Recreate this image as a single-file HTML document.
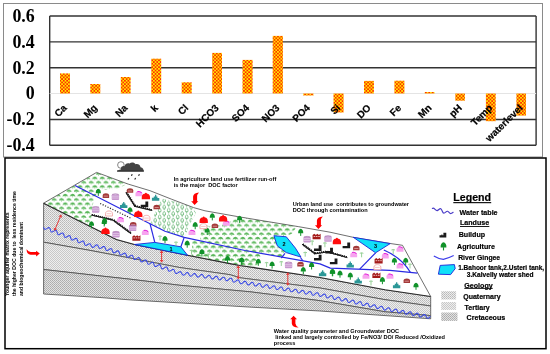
<!DOCTYPE html>
<html><head><meta charset="utf-8">
<style>
html,body{margin:0;padding:0;background:#fff;}
body{width:550px;height:354px;overflow:hidden;position:relative;}
svg{position:absolute;left:0;top:0;display:block;}
.ax{font-family:"Liberation Serif",serif;font-weight:bold;font-size:17.9px;fill:#000;}
.cat{font-family:"Liberation Sans",sans-serif;font-weight:bold;font-size:9.9px;fill:#000;stroke:#000;stroke-width:0.2px;}
.t{font-family:"Liberation Sans",sans-serif;font-weight:bold;fill:#000;white-space:pre;text-decoration-skip-ink:none;}
</style></head>
<body>
<svg width="550" height="354" viewBox="0 0 550 354">
<defs>
  <pattern id="chk" width="3.4" height="3.4" patternUnits="userSpaceOnUse">
    <rect width="3.4" height="3.4" fill="#ffe800"/>
    <rect width="1.7" height="1.7" fill="#ff3000"/>
    <rect x="1.7" y="1.7" width="1.7" height="1.7" fill="#ff3000"/>
  </pattern>
  <pattern id="g1" width="2" height="2" patternUnits="userSpaceOnUse">
    <rect width="2" height="2" fill="#ececec"/>
    <rect width="1" height="1" fill="#b8b8b8"/>
    <rect x="1" y="1" width="1" height="1" fill="#c4c4c4"/>
  </pattern>
  <pattern id="g2" width="2" height="2" patternUnits="userSpaceOnUse">
    <rect width="2" height="2" fill="#eeeeee"/>
    <rect width="1" height="1" fill="#c8c8c8"/>
    <rect x="1" y="1" width="1" height="1" fill="#c8c8c8"/>
  </pattern>
  <pattern id="g3" width="2" height="2" patternUnits="userSpaceOnUse">
    <rect width="2" height="2" fill="#e2e2e2"/>
    <rect width="1" height="1" fill="#acacac"/>
    <rect x="1" y="1" width="1" height="1" fill="#b4b4b4"/>
  </pattern>
  <pattern id="gd" width="7.4" height="8.6" patternUnits="userSpaceOnUse">
    <path d="M-0.6,2.9 Q0.3,0.4 2.3,0.3 Q4.3,0.4 5.2,2.9 Q2.3,2 -0.6,2.9 Z" fill="#57b557"/><path d="M2.3,2.3 V3.8" stroke="#94d294" stroke-width="0.8"/>
    <path d="M3.1,7.2 Q4,4.7 6,4.6 Q8,4.7 8.9,7.2 Q6,6.3 3.1,7.2 Z" fill="#57b557"/><path d="M6,6.6 V8.1" stroke="#94d294" stroke-width="0.8"/>
    <path d="M-4.3,7.2 Q-3.4,4.7 -1.4,4.6 Q0.6,4.7 1.5,7.2 Q-1.4,6.3 -4.3,7.2 Z" fill="#57b557"/>
  </pattern>
  <pattern id="gd2" width="9" height="9" patternUnits="userSpaceOnUse">
    <path d="M0.4,2.6 Q1.1,0.6 2.3,0.5 Q3.5,0.6 4.2,2.6 Q2.3,1.9 0.4,2.6 Z" fill="#6cbf6c"/><path d="M2.3,2 V3.3" stroke="#9fd79f" stroke-width="0.6"/>
    <path d="M4.9,7.1 Q5.6,5.1 6.8,5 Q8,5.1 8.7,7.1 Q6.8,6.4 4.9,7.1 Z" fill="#6cbf6c"/><path d="M6.8,6.5 V7.8" stroke="#9fd79f" stroke-width="0.6"/>
  </pattern>
  <pattern id="fr" width="9" height="6.6" patternUnits="userSpaceOnUse">
    <path d="M2.2,0.2 C3.4,1.1 3.8,2.6 3.4,3.8 L1,3.8 C0.6,2.6 1,1.1 2.2,0.2 Z M2.2,3.8 V5.6" fill="none" stroke="#3a9f4a" stroke-width="0.6"/>
    <path d="M6.7,3.5 C7.9,4.4 8.3,5.9 7.9,7.1 L5.5,7.1 C5.1,5.9 5.5,4.4 6.7,3.5 Z M6.7,0.5 V2.3" fill="none" stroke="#3a9f4a" stroke-width="0.6"/>
    <path d="M6.7,-3.1 C7.9,-2.2 8.3,-0.7 7.9,0.5 L5.5,0.5 C5.1,-0.7 5.5,-2.2 6.7,-3.1 Z" fill="none" stroke="#3a9f4a" stroke-width="0.6"/>
  </pattern>
</defs>

<!-- ============ CHART ============ -->
<rect x="3.5" y="3.5" width="539" height="153.5" fill="#fff" stroke="#8a8a8a" stroke-width="1"/>
<g stroke="#333" stroke-width="1.4" fill="none">
  <line x1="49.7" y1="16" x2="536.1" y2="16"/>
  <line x1="49.7" y1="41.86" x2="536.1" y2="41.86"/>
  <line x1="49.7" y1="67.72" x2="536.1" y2="67.72"/>
  <line x1="49.7" y1="119.44" x2="536.1" y2="119.44"/>
  <line x1="49.7" y1="145.3" x2="536.1" y2="145.3"/>
  <line x1="49.7" y1="16" x2="49.7" y2="145.3"/>
  <line x1="536.1" y1="16" x2="536.1" y2="145.3"/>
</g>
<line x1="49.7" y1="93.5" x2="536.1" y2="93.5" stroke="#e4e4e4" stroke-width="1"/>
<g fill="url(#chk)">
  <rect x="60" y="73.4" width="10" height="20.1"/>
  <rect x="90.3" y="84" width="10" height="9.5"/>
  <rect x="120.8" y="77" width="9.8" height="16.5"/>
  <rect x="151.3" y="58.7" width="9.9" height="34.8"/>
  <rect x="181.7" y="82.3" width="10" height="11.2"/>
  <rect x="212.2" y="52.9" width="9.8" height="40.6"/>
  <rect x="242.5" y="59.9" width="10.1" height="33.6"/>
  <rect x="272.7" y="35.9" width="10.2" height="57.6"/>
  <rect x="303.2" y="93.5" width="10.3" height="2"/>
  <rect x="333.5" y="93.5" width="10.1" height="19"/>
  <rect x="364" y="80.9" width="9.9" height="12.6"/>
  <rect x="394.4" y="80.7" width="10" height="12.8"/>
  <rect x="424.7" y="92" width="9.8" height="1.5"/>
  <rect x="455.3" y="93.5" width="9.6" height="7.2"/>
  <rect x="485.9" y="93.5" width="9.8" height="27.7"/>
  <rect x="516.4" y="93.5" width="9.6" height="22.1"/>
</g>
<g class="ax" text-anchor="end">
  <text x="34.8" y="21.8">0.6</text>
  <text x="34.8" y="47.7">0.4</text>
  <text x="34.8" y="73.5">0.2</text>
  <text x="34.8" y="99.4">0</text>
  <text x="34.8" y="125.2">-0.2</text>
  <text x="34.8" y="151.1">-0.4</text>
</g>
<g class="cat" text-anchor="end">
  <text transform="translate(67.4,108.5) rotate(-45)">Ca</text>
  <text transform="translate(97.8,108.5) rotate(-45)">Mg</text>
  <text transform="translate(128.2,108.5) rotate(-45)">Na</text>
  <text transform="translate(158.6,108.5) rotate(-45)">k</text>
  <text transform="translate(189.0,108.5) rotate(-45)">Cl</text>
  <text transform="translate(219.4,108.5) rotate(-45)">HCO3</text>
  <text transform="translate(249.8,108.5) rotate(-45)">SO4</text>
  <text transform="translate(280.2,108.5) rotate(-45)">NO3</text>
  <text transform="translate(310.6,108.5) rotate(-45)">PO4</text>
  <text transform="translate(341.0,108.5) rotate(-45)">Si</text>
  <text transform="translate(371.4,108.5) rotate(-45)">DO</text>
  <text transform="translate(401.8,108.5) rotate(-45)">Fe</text>
  <text transform="translate(432.2,108.5) rotate(-45)">Mn</text>
  <text transform="translate(462.6,108.5) rotate(-45)">pH</text>
  <text transform="translate(493.0,108.5) rotate(-45)">Temp</text>
  <text transform="translate(523.4,108.5) rotate(-45)">waterlevel</text>
</g>

<!-- ============ DIAGRAM ============ -->
<rect x="5" y="158" width="541" height="190.7" fill="#fff" stroke="#000" stroke-width="1.5"/>

<clipPath id="topclip"><polygon points="43.6,203.2 96.6,172.4 128.2,184.1 150.0,190.7 171.8,199.3 193.6,207.6 205.0,210.8 237.7,216.6 260.0,220.3 298.2,226.6 330.0,232.2 354.5,237.6 390.9,243.6 402.5,245.3 430.7,296.5 385.0,289.7 320.0,277.5 240.0,265.5 230.0,263.6 187.6,255.3 134.5,244.5 116.4,239.5 43.6,203.2"/></clipPath><g stroke="#4a4a4a" stroke-width="0.8" stroke-linejoin="round"><polygon fill="url(#g1)" points="43.6,203.2 116.4,239.5 134.5,244.5 187.6,255.3 230.0,263.6 240.0,265.5 320.0,277.5 385.0,289.7 430.7,296.5 430.7,306.0 385.0,299.7 320.0,288.0 240.0,277.8 230.0,274.7 180.0,267.6 90.0,250.4 43.6,242.2"/><polygon fill="url(#g2)" points="43.6,242.2 90.0,250.4 180.0,267.6 230.0,274.7 240.0,277.8 320.0,288.0 385.0,299.7 430.7,306.0 430.7,315.6 385.0,311.8 320.0,300.7 250.0,291.8 180.0,285.3 130.0,279.2 100.0,275.9 43.6,269.5"/><polygon fill="url(#g3)" points="43.6,269.5 100.0,275.9 130.0,279.2 180.0,285.3 250.0,291.8 320.0,300.7 385.0,311.8 430.7,315.6 430.7,318.8 320.0,311.0 250.0,307.1 130.0,299.9 100.0,297.5 43.6,294.0"/></g><polygon fill="#fff" points="43.6,203.2 96.6,172.4 128.2,184.1 150.0,190.7 171.8,199.3 193.6,207.6 205.0,210.8 237.7,216.6 260.0,220.3 298.2,226.6 330.0,232.2 354.5,237.6 390.9,243.6 402.5,245.3 430.7,296.5 385.0,289.7 320.0,277.5 240.0,265.5 230.0,263.6 187.6,255.3 134.5,244.5 116.4,239.5 43.6,203.2"/><g clip-path="url(#topclip)"><polygon points="43.6,203.2 96.9,172.4 128.0,183.4 118.0,188.5 100.0,190.5 94.0,197.0 92.0,212.0 90.0,227.0 43.6,203.2" fill="url(#gd)"/><polygon points="162.0,198.5 180.0,203.0 192.0,207.0 196.0,213.0 190.0,224.0 184.2,237.4 165.0,231.3 150.0,223.7 155.0,213.0 159.0,204.0" fill="url(#fr)"/><polygon points="202.0,224.0 212.0,227.0 228.0,223.0 238.0,216.0 245.0,216.5 297.0,226.0 292.0,233.5 286.3,236.8 273.9,235.7 277.3,245.8 286.3,252.6 283.0,257.3 245.0,250.5 200.0,240.8" fill="url(#gd)"/><polygon points="192.0,239.1 245.0,250.5 262.0,253.5 256.0,267.5 240.0,265.1 230.0,263.4 192.0,256.1" fill="url(#gd)"/></g><polyline fill="none" stroke="#2a2a2a" stroke-width="1.1" stroke-linejoin="round" points="43.6,203.2 116.4,239.5 134.5,244.5 187.6,255.3 230.0,263.6 240.0,265.5 320.0,277.5 385.0,289.7 430.7,296.5"/><polyline fill="none" stroke="#4a4a4a" stroke-width="0.8" stroke-linejoin="round" points="43.6,203.2 96.6,172.4 128.2,184.1 150.0,190.7 171.8,199.3 193.6,207.6 205.0,210.8 237.7,216.6 260.0,220.3 298.2,226.6 330.0,232.2 354.5,237.6 390.9,243.6 402.5,245.3 430.7,296.5"/><g fill="none" stroke="#2a2ae2" stroke-width="1.2" stroke-linejoin="round"><polyline points="75.0,185.5 150.0,223.7 165.0,231.3 184.2,237.4 245.0,250.5 320.0,263.9 330.3,268.1 390.0,270.4 417.5,273.1"/><polyline points="150,223.7 154.8,242.4"/><polyline points="184.2,237.4 180.9,246.8"/><polyline points="285,253.4 281.3,258"/><polyline points="300.5,257.5 303,261"/><polyline points="375.6,252.8 359.7,269.1"/><path d="M383.8,250 Q402,258 410.5,272.5"/></g><polygon points="134.5,244.5 154.8,242.4 180.9,246.8 187.6,255.3" fill="#10e0f8" stroke="#1a22d8" stroke-width="0.9" stroke-linejoin="round"/><polygon points="273.9,235.7 286.3,236.8 295.4,248.1 301,257.1 286.3,252.6 277.3,245.8" fill="#10e0f8" stroke="#1a22d8" stroke-width="0.9" stroke-linejoin="round"/><polygon points="353.3,237.3 390.2,243.6 375.6,252.8" fill="#10e0f8" stroke="#1a22d8" stroke-width="0.9" stroke-linejoin="round"/><g class="t" font-size="5.5"><text x="169.6" y="250.6">1</text><text x="282.6" y="245.8">2</text><text x="373.9" y="247.6">3</text></g><g fill="#111" stroke="#111" stroke-width="0.9" stroke-linejoin="miter"><path d="M125.60,192.70 L127.42,192.40 L126.71,194.45 L128.54,194.15 L127.82,196.20 L129.65,195.90 L128.94,197.95 L130.76,197.65 L130.05,199.70 L131.87,199.40 L131.16,201.45 L132.99,201.15 L132.28,203.20 L134.10,202.90 L133.39,204.95 L135.21,204.65 L134.50,206.70"/><path d="M134.50,206.70 L135.59,205.22 L136.44,207.18 L137.53,205.69 L138.39,207.66 L139.48,206.17 L140.33,208.13 L141.42,206.65 L142.28,208.61 L143.36,207.13 L144.22,209.09 L145.31,207.61 L146.17,209.57 L147.25,208.08 L148.11,210.04 L149.20,208.56 L150.06,210.52 L151.14,209.04 L152.00,211.00"/><path d="M91.30,215.60 L92.38,214.11 L93.26,216.06 L94.34,214.57 L95.23,216.53 L96.31,215.04 L97.19,216.99 L98.27,215.50 L99.15,217.45 L100.23,215.96 L101.12,217.92 L102.20,216.43 L103.08,218.38 L104.16,216.89 L105.05,218.85 L106.12,217.35 L107.01,219.31 L108.09,217.82 L108.97,219.77 L110.05,218.28 L110.94,220.24 L112.01,218.74 L112.90,220.70"/><path d="M112.90,220.70 L114.48,219.76 L114.52,221.91 L116.10,220.97 L116.14,223.12 L117.72,222.18 L117.75,224.33 L119.34,223.39 L119.37,225.54 L120.96,224.60 L120.99,226.75 L122.57,225.81 L122.61,227.95 L124.19,227.02 L124.23,229.16 L125.81,228.22 L125.85,230.37 L127.43,229.43 L127.46,231.58 L129.05,230.64 L129.08,232.79 L130.67,231.85 L130.70,234.00"/><path d="M302.00,244.80 L303.57,243.85 L303.59,245.99 L305.16,245.04 L305.18,247.18 L306.75,246.23 L306.76,248.36 L308.34,247.42 L308.35,249.55 L309.92,248.60 L309.94,250.74 L311.51,249.79 L311.52,251.93 L313.10,250.98 L313.11,253.11 L314.69,252.17 L314.70,254.30"/><path d="M314.70,254.30 L315.14,252.51 L316.72,253.98 L317.16,252.19 L318.73,253.67 L319.18,251.88 L320.75,253.35 L321.19,251.56 L322.77,253.03 L323.21,251.24 L324.78,252.72 L325.23,250.93 L326.80,252.40"/><path d="M326.80,252.40 L327.91,250.94 L328.65,252.92 L329.75,251.46 L330.49,253.44 L331.60,251.98 L332.34,253.95 L333.44,252.50 L334.18,254.47 L335.29,253.02 L336.03,254.99 L337.13,253.54 L337.87,255.51 L338.98,254.05 L339.72,256.03 L340.82,254.57 L341.56,256.55 L342.67,255.09 L343.41,257.06 L344.51,255.61 L345.25,257.58 L346.36,256.13 L347.10,258.10"/></g><path d="M100.2,203.5 L130.7,218.1" stroke="#222" stroke-width="1.2" stroke-dasharray="1.1,1.6" fill="none"/><g transform="translate(98.3,192.7) scale(1.10)"><path d="M-2.3,0.6 C-2.6,-1.6 -1.4,-3.4 0,-3.6 C1.4,-3.4 2.6,-1.6 2.3,0.6 Z" fill="#11922a"/><rect x="-0.45" y="0.3" width="0.9" height="2.6" fill="#11922a"/></g><g transform="translate(130.0,211.1) scale(1.10)"><path d="M-2.3,0.6 C-2.6,-1.6 -1.4,-3.4 0,-3.6 C1.4,-3.4 2.6,-1.6 2.3,0.6 Z" fill="#11922a"/><rect x="-0.45" y="0.3" width="0.9" height="2.6" fill="#11922a"/></g><g transform="translate(104.6,221.9) scale(1.10)"><path d="M-2.3,0.6 C-2.6,-1.6 -1.4,-3.4 0,-3.6 C1.4,-3.4 2.6,-1.6 2.3,0.6 Z" fill="#11922a"/><rect x="-0.45" y="0.3" width="0.9" height="2.6" fill="#11922a"/></g><g transform="translate(91.5,225.2) scale(1.10)"><path d="M-2.3,0.6 C-2.6,-1.6 -1.4,-3.4 0,-3.6 C1.4,-3.4 2.6,-1.6 2.3,0.6 Z" fill="#11922a"/><rect x="-0.45" y="0.3" width="0.9" height="2.6" fill="#11922a"/></g><g transform="translate(104.2,223.3) scale(1.10)"><path d="M-2.3,0.6 C-2.6,-1.6 -1.4,-3.4 0,-3.6 C1.4,-3.4 2.6,-1.6 2.3,0.6 Z" fill="#11922a"/><rect x="-0.45" y="0.3" width="0.9" height="2.6" fill="#11922a"/></g><g transform="translate(212.3,217.2) scale(1.10)"><path d="M-2.3,0.6 C-2.6,-1.6 -1.4,-3.4 0,-3.6 C1.4,-3.4 2.6,-1.6 2.3,0.6 Z" fill="#11922a"/><rect x="-0.45" y="0.3" width="0.9" height="2.6" fill="#11922a"/></g><g transform="translate(195.2,226.0) scale(1.10)"><path d="M-2.3,0.6 C-2.6,-1.6 -1.4,-3.4 0,-3.6 C1.4,-3.4 2.6,-1.6 2.3,0.6 Z" fill="#11922a"/><rect x="-0.45" y="0.3" width="0.9" height="2.6" fill="#11922a"/></g><g transform="translate(207.2,231.8) scale(1.10)"><path d="M-2.3,0.6 C-2.6,-1.6 -1.4,-3.4 0,-3.6 C1.4,-3.4 2.6,-1.6 2.3,0.6 Z" fill="#11922a"/><rect x="-0.45" y="0.3" width="0.9" height="2.6" fill="#11922a"/></g><g transform="translate(239.6,219.7) scale(1.10)"><path d="M-2.3,0.6 C-2.6,-1.6 -1.4,-3.4 0,-3.6 C1.4,-3.4 2.6,-1.6 2.3,0.6 Z" fill="#11922a"/><rect x="-0.45" y="0.3" width="0.9" height="2.6" fill="#11922a"/></g><g transform="translate(300.7,232.7) scale(1.10)"><path d="M-2.3,0.6 C-2.6,-1.6 -1.4,-3.4 0,-3.6 C1.4,-3.4 2.6,-1.6 2.3,0.6 Z" fill="#11922a"/><rect x="-0.45" y="0.3" width="0.9" height="2.6" fill="#11922a"/></g><g transform="translate(165.0,240.0) scale(1.10)"><path d="M-2.3,0.6 C-2.6,-1.6 -1.4,-3.4 0,-3.6 C1.4,-3.4 2.6,-1.6 2.3,0.6 Z" fill="#11922a"/><rect x="-0.45" y="0.3" width="0.9" height="2.6" fill="#11922a"/></g><g transform="translate(241.8,261.7) scale(1.10)"><path d="M-2.3,0.6 C-2.6,-1.6 -1.4,-3.4 0,-3.6 C1.4,-3.4 2.6,-1.6 2.3,0.6 Z" fill="#11922a"/><rect x="-0.45" y="0.3" width="0.9" height="2.6" fill="#11922a"/></g><g transform="translate(258.3,262.6) scale(1.10)"><path d="M-2.3,0.6 C-2.6,-1.6 -1.4,-3.4 0,-3.6 C1.4,-3.4 2.6,-1.6 2.3,0.6 Z" fill="#11922a"/><rect x="-0.45" y="0.3" width="0.9" height="2.6" fill="#11922a"/></g><g transform="translate(272.1,265.4) scale(1.10)"><path d="M-2.3,0.6 C-2.6,-1.6 -1.4,-3.4 0,-3.6 C1.4,-3.4 2.6,-1.6 2.3,0.6 Z" fill="#11922a"/><rect x="-0.45" y="0.3" width="0.9" height="2.6" fill="#11922a"/></g><g transform="translate(303.3,270.9) scale(1.10)"><path d="M-2.3,0.6 C-2.6,-1.6 -1.4,-3.4 0,-3.6 C1.4,-3.4 2.6,-1.6 2.3,0.6 Z" fill="#11922a"/><rect x="-0.45" y="0.3" width="0.9" height="2.6" fill="#11922a"/></g><g transform="translate(311.6,266.3) scale(1.10)"><path d="M-2.3,0.6 C-2.6,-1.6 -1.4,-3.4 0,-3.6 C1.4,-3.4 2.6,-1.6 2.3,0.6 Z" fill="#11922a"/><rect x="-0.45" y="0.3" width="0.9" height="2.6" fill="#11922a"/></g><g transform="translate(332.7,273.0) scale(1.10)"><path d="M-2.3,0.6 C-2.6,-1.6 -1.4,-3.4 0,-3.6 C1.4,-3.4 2.6,-1.6 2.3,0.6 Z" fill="#11922a"/><rect x="-0.45" y="0.3" width="0.9" height="2.6" fill="#11922a"/></g><g transform="translate(332.3,273.0) scale(1.10)"><path d="M-2.3,0.6 C-2.6,-1.6 -1.4,-3.4 0,-3.6 C1.4,-3.4 2.6,-1.6 2.3,0.6 Z" fill="#11922a"/><rect x="-0.45" y="0.3" width="0.9" height="2.6" fill="#11922a"/></g><g transform="translate(340.0,274.5) scale(1.10)"><path d="M-2.3,0.6 C-2.6,-1.6 -1.4,-3.4 0,-3.6 C1.4,-3.4 2.6,-1.6 2.3,0.6 Z" fill="#11922a"/><rect x="-0.45" y="0.3" width="0.9" height="2.6" fill="#11922a"/></g><g transform="translate(350.3,276.5) scale(1.10)"><path d="M-2.3,0.6 C-2.6,-1.6 -1.4,-3.4 0,-3.6 C1.4,-3.4 2.6,-1.6 2.3,0.6 Z" fill="#11922a"/><rect x="-0.45" y="0.3" width="0.9" height="2.6" fill="#11922a"/></g><g transform="translate(382.4,281.0) scale(1.10)"><path d="M-2.3,0.6 C-2.6,-1.6 -1.4,-3.4 0,-3.6 C1.4,-3.4 2.6,-1.6 2.3,0.6 Z" fill="#11922a"/><rect x="-0.45" y="0.3" width="0.9" height="2.6" fill="#11922a"/></g><g transform="translate(416.0,286.6) scale(1.10)"><path d="M-2.3,0.6 C-2.6,-1.6 -1.4,-3.4 0,-3.6 C1.4,-3.4 2.6,-1.6 2.3,0.6 Z" fill="#11922a"/><rect x="-0.45" y="0.3" width="0.9" height="2.6" fill="#11922a"/></g><g transform="translate(394.4,261.8) scale(1.10)"><path d="M-2.3,0.6 C-2.6,-1.6 -1.4,-3.4 0,-3.6 C1.4,-3.4 2.6,-1.6 2.3,0.6 Z" fill="#11922a"/><rect x="-0.45" y="0.3" width="0.9" height="2.6" fill="#11922a"/></g><g transform="translate(405.7,261.8) scale(1.10)"><path d="M-2.3,0.6 C-2.6,-1.6 -1.4,-3.4 0,-3.6 C1.4,-3.4 2.6,-1.6 2.3,0.6 Z" fill="#11922a"/><rect x="-0.45" y="0.3" width="0.9" height="2.6" fill="#11922a"/></g><g transform="translate(187.2,244.5) scale(1.10)"><path d="M-2.3,0.6 C-2.6,-1.6 -1.4,-3.4 0,-3.6 C1.4,-3.4 2.6,-1.6 2.3,0.6 Z" fill="#11922a"/><rect x="-0.45" y="0.3" width="0.9" height="2.6" fill="#11922a"/></g><g transform="translate(201.9,253.3) scale(1.10)"><path d="M-2.3,0.6 C-2.6,-1.6 -1.4,-3.4 0,-3.6 C1.4,-3.4 2.6,-1.6 2.3,0.6 Z" fill="#11922a"/><rect x="-0.45" y="0.3" width="0.9" height="2.6" fill="#11922a"/></g><g transform="translate(227.5,259.8) scale(1.10)"><path d="M-2.3,0.6 C-2.6,-1.6 -1.4,-3.4 0,-3.6 C1.4,-3.4 2.6,-1.6 2.3,0.6 Z" fill="#11922a"/><rect x="-0.45" y="0.3" width="0.9" height="2.6" fill="#11922a"/></g><g transform="translate(241.7,261.4) scale(1.10)"><path d="M-2.3,0.6 C-2.6,-1.6 -1.4,-3.4 0,-3.6 C1.4,-3.4 2.6,-1.6 2.3,0.6 Z" fill="#11922a"/><rect x="-0.45" y="0.3" width="0.9" height="2.6" fill="#11922a"/></g><g transform="translate(105.90,195.90) scale(1.15) translate(-105.90,-195.90)"><g transform="translate(105.9,195.9)"><path d="M-2.8,1.8 L-2.8,-0.4 C-2.8,-1.6 -1.6,-2.2 0,-2.2 C1.6,-2.2 2.8,-1.6 2.8,-0.4 L2.8,1.8 Z" fill="#a33a3a"/><rect x="-1.8" y="-0.2" width="3.6" height="0.7" fill="#e2a0a0"/></g></g><g transform="translate(130.00,190.80) scale(1.15) translate(-130.00,-190.80)"><g transform="translate(130.0,190.8)"><path d="M-2.8,1.8 L-2.8,-0.4 C-2.8,-1.6 -1.6,-2.2 0,-2.2 C1.6,-2.2 2.8,-1.6 2.8,-0.4 L2.8,1.8 Z" fill="#a33a3a"/><rect x="-1.8" y="-0.2" width="3.6" height="0.7" fill="#e2a0a0"/></g></g><g transform="translate(133.20,224.50) scale(1.15) translate(-133.20,-224.50)"><g transform="translate(133.2,224.5)"><path d="M-2.8,1.8 L-2.8,-0.4 C-2.8,-1.6 -1.6,-2.2 0,-2.2 C1.6,-2.2 2.8,-1.6 2.8,-0.4 L2.8,1.8 Z" fill="#a33a3a"/><rect x="-1.8" y="-0.2" width="3.6" height="0.7" fill="#e2a0a0"/></g></g><g transform="translate(214.90,226.00) scale(1.15) translate(-214.90,-226.00)"><g transform="translate(214.9,226.0)"><path d="M-2.8,1.8 L-2.8,-0.4 C-2.8,-1.6 -1.6,-2.2 0,-2.2 C1.6,-2.2 2.8,-1.6 2.8,-0.4 L2.8,1.8 Z" fill="#a33a3a"/><rect x="-1.8" y="-0.2" width="3.6" height="0.7" fill="#e2a0a0"/></g></g><g transform="translate(356.30,248.30) scale(1.15) translate(-356.30,-248.30)"><g transform="translate(356.3,248.3)"><path d="M-2.8,1.8 L-2.8,-0.4 C-2.8,-1.6 -1.6,-2.2 0,-2.2 C1.6,-2.2 2.8,-1.6 2.8,-0.4 L2.8,1.8 Z" fill="#a33a3a"/><rect x="-1.8" y="-0.2" width="3.6" height="0.7" fill="#e2a0a0"/></g></g><g transform="translate(406.80,281.00) scale(1.15) translate(-406.80,-281.00)"><g transform="translate(406.8,281.0)"><path d="M-2.8,1.8 L-2.8,-0.4 C-2.8,-1.6 -1.6,-2.2 0,-2.2 C1.6,-2.2 2.8,-1.6 2.8,-0.4 L2.8,1.8 Z" fill="#a33a3a"/><rect x="-1.8" y="-0.2" width="3.6" height="0.7" fill="#e2a0a0"/></g></g><g transform="translate(300.50,264.40) scale(1.15) translate(-300.50,-264.40)"><g transform="translate(300.5,264.4)"><path d="M-2.8,1.8 L-2.8,-0.4 C-2.8,-1.6 -1.6,-2.2 0,-2.2 C1.6,-2.2 2.8,-1.6 2.8,-0.4 L2.8,1.8 Z" fill="#a33a3a"/><rect x="-1.8" y="-0.2" width="3.6" height="0.7" fill="#e2a0a0"/></g></g><g transform="translate(156.70,207.30) scale(1.15) translate(-156.70,-207.30)"><g transform="translate(156.7,207.3)"><path d="M-2.8,1.8 L-2.8,-0.4 C-2.8,-1.6 -1.6,-2.2 0,-2.2 C1.6,-2.2 2.8,-1.6 2.8,-0.4 L2.8,1.8 Z" fill="#a33a3a"/><rect x="-1.8" y="-0.2" width="3.6" height="0.7" fill="#e2a0a0"/></g></g><g transform="translate(115.40,197.20) scale(1.15) translate(-115.40,-197.20)"><g transform="translate(115.4,197.2)"><rect x="-3.2" y="-2.4" width="6.4" height="4.8" rx="0.8" fill="#c797cf"/><path d="M-3,-0.9 H3 M-3,0.7 H3" stroke="#f3dff5" stroke-width="0.5"/><path d="M-2.8,-2.4 Q0,-3.4 2.8,-2.4" stroke="#9a5aa2" stroke-width="0.6" fill="none"/></g></g><g transform="translate(95.70,209.90) scale(1.15) translate(-95.70,-209.90)"><g transform="translate(95.7,209.9)"><rect x="-3.2" y="-2.4" width="6.4" height="4.8" rx="0.8" fill="#c797cf"/><path d="M-3,-0.9 H3 M-3,0.7 H3" stroke="#f3dff5" stroke-width="0.5"/><path d="M-2.8,-2.4 Q0,-3.4 2.8,-2.4" stroke="#9a5aa2" stroke-width="0.6" fill="none"/></g></g><g transform="translate(116.00,234.70) scale(1.15) translate(-116.00,-234.70)"><g transform="translate(116.0,234.7)"><rect x="-3.2" y="-2.4" width="6.4" height="4.8" rx="0.8" fill="#c797cf"/><path d="M-3,-0.9 H3 M-3,0.7 H3" stroke="#f3dff5" stroke-width="0.5"/><path d="M-2.8,-2.4 Q0,-3.4 2.8,-2.4" stroke="#9a5aa2" stroke-width="0.6" fill="none"/></g></g><g transform="translate(132.60,228.30) scale(1.15) translate(-132.60,-228.30)"><g transform="translate(132.6,228.3)"><rect x="-3.2" y="-2.4" width="6.4" height="4.8" rx="0.8" fill="#c797cf"/><path d="M-3,-0.9 H3 M-3,0.7 H3" stroke="#f3dff5" stroke-width="0.5"/><path d="M-2.8,-2.4 Q0,-3.4 2.8,-2.4" stroke="#9a5aa2" stroke-width="0.6" fill="none"/></g></g><g transform="translate(307.10,239.70) scale(1.15) translate(-307.10,-239.70)"><g transform="translate(307.1,239.7)"><rect x="-3.2" y="-2.4" width="6.4" height="4.8" rx="0.8" fill="#c797cf"/><path d="M-3,-0.9 H3 M-3,0.7 H3" stroke="#f3dff5" stroke-width="0.5"/><path d="M-2.8,-2.4 Q0,-3.4 2.8,-2.4" stroke="#9a5aa2" stroke-width="0.6" fill="none"/></g></g><g transform="translate(328.00,239.10) scale(1.15) translate(-328.00,-239.10)"><g transform="translate(328.0,239.1)"><rect x="-3.2" y="-2.4" width="6.4" height="4.8" rx="0.8" fill="#c797cf"/><path d="M-3,-0.9 H3 M-3,0.7 H3" stroke="#f3dff5" stroke-width="0.5"/><path d="M-2.8,-2.4 Q0,-3.4 2.8,-2.4" stroke="#9a5aa2" stroke-width="0.6" fill="none"/></g></g><g transform="translate(288.60,265.40) scale(1.15) translate(-288.60,-265.40)"><g transform="translate(288.6,265.4)"><rect x="-3.2" y="-2.4" width="6.4" height="4.8" rx="0.8" fill="#c797cf"/><path d="M-3,-0.9 H3 M-3,0.7 H3" stroke="#f3dff5" stroke-width="0.5"/><path d="M-2.8,-2.4 Q0,-3.4 2.8,-2.4" stroke="#9a5aa2" stroke-width="0.6" fill="none"/></g></g><g transform="translate(138.90,194.00) scale(1.15) translate(-138.90,-194.00)"><g transform="translate(138.9,194.0)"><path d="M-3,2 L-3,-0.2 C-3,-1.8 -1.4,-2.4 0,-2.4 C1.4,-2.4 3,-1.8 3,-0.2 L3,2 Z" fill="#f7a3ef"/><path d="M-1.4,-2 Q0.6,-2.8 2.4,-1" stroke="#e21fd8" stroke-width="0.9" fill="none"/></g></g><g transform="translate(120.50,220.00) scale(1.15) translate(-120.50,-220.00)"><g transform="translate(120.5,220.0)"><path d="M-3,2 L-3,-0.2 C-3,-1.8 -1.4,-2.4 0,-2.4 C1.4,-2.4 3,-1.8 3,-0.2 L3,2 Z" fill="#f7a3ef"/><path d="M-1.4,-2 Q0.6,-2.8 2.4,-1" stroke="#e21fd8" stroke-width="0.9" fill="none"/></g></g><g transform="translate(145.30,232.80) scale(1.15) translate(-145.30,-232.80)"><g transform="translate(145.3,232.8)"><path d="M-3,2 L-3,-0.2 C-3,-1.8 -1.4,-2.4 0,-2.4 C1.4,-2.4 3,-1.8 3,-0.2 L3,2 Z" fill="#f7a3ef"/><path d="M-1.4,-2 Q0.6,-2.8 2.4,-1" stroke="#e21fd8" stroke-width="0.9" fill="none"/></g></g><g transform="translate(226.30,223.50) scale(1.15) translate(-226.30,-223.50)"><g transform="translate(226.3,223.5)"><path d="M-3,2 L-3,-0.2 C-3,-1.8 -1.4,-2.4 0,-2.4 C1.4,-2.4 3,-1.8 3,-0.2 L3,2 Z" fill="#f7a3ef"/><path d="M-1.4,-2 Q0.6,-2.8 2.4,-1" stroke="#e21fd8" stroke-width="0.9" fill="none"/></g></g><g transform="translate(192.00,232.80) scale(1.15) translate(-192.00,-232.80)"><g transform="translate(192.0,232.8)"><path d="M-3,2 L-3,-0.2 C-3,-1.8 -1.4,-2.4 0,-2.4 C1.4,-2.4 3,-1.8 3,-0.2 L3,2 Z" fill="#f7a3ef"/><path d="M-1.4,-2 Q0.6,-2.8 2.4,-1" stroke="#e21fd8" stroke-width="0.9" fill="none"/></g></g><g transform="translate(353.70,254.90) scale(1.15) translate(-353.70,-254.90)"><g transform="translate(353.7,254.9)"><path d="M-3,2 L-3,-0.2 C-3,-1.8 -1.4,-2.4 0,-2.4 C1.4,-2.4 3,-1.8 3,-0.2 L3,2 Z" fill="#f7a3ef"/><path d="M-1.4,-2 Q0.6,-2.8 2.4,-1" stroke="#e21fd8" stroke-width="0.9" fill="none"/></g></g><g transform="translate(385.30,256.10) scale(1.15) translate(-385.30,-256.10)"><g transform="translate(385.3,256.1)"><path d="M-3,2 L-3,-0.2 C-3,-1.8 -1.4,-2.4 0,-2.4 C1.4,-2.4 3,-1.8 3,-0.2 L3,2 Z" fill="#f7a3ef"/><path d="M-1.4,-2 Q0.6,-2.8 2.4,-1" stroke="#e21fd8" stroke-width="0.9" fill="none"/></g></g><g transform="translate(400.00,266.30) scale(1.15) translate(-400.00,-266.30)"><g transform="translate(400.0,266.3)"><path d="M-3,2 L-3,-0.2 C-3,-1.8 -1.4,-2.4 0,-2.4 C1.4,-2.4 3,-1.8 3,-0.2 L3,2 Z" fill="#f7a3ef"/><path d="M-1.4,-2 Q0.6,-2.8 2.4,-1" stroke="#e21fd8" stroke-width="0.9" fill="none"/></g></g><g transform="translate(400.00,249.40) scale(1.15) translate(-400.00,-249.40)"><g transform="translate(400.0,249.4)"><path d="M-3,2 L-3,-0.2 C-3,-1.8 -1.4,-2.4 0,-2.4 C1.4,-2.4 3,-1.8 3,-0.2 L3,2 Z" fill="#f7a3ef"/><path d="M-1.4,-2 Q0.6,-2.8 2.4,-1" stroke="#e21fd8" stroke-width="0.9" fill="none"/></g></g><g transform="translate(366.00,276.50) scale(1.15) translate(-366.00,-276.50)"><g transform="translate(366.0,276.5)"><path d="M-3,2 L-3,-0.2 C-3,-1.8 -1.4,-2.4 0,-2.4 C1.4,-2.4 3,-1.8 3,-0.2 L3,2 Z" fill="#f7a3ef"/><path d="M-1.4,-2 Q0.6,-2.8 2.4,-1" stroke="#e21fd8" stroke-width="0.9" fill="none"/></g></g><g transform="translate(390.00,276.50) scale(1.15) translate(-390.00,-276.50)"><g transform="translate(390.0,276.5)"><path d="M-3,2 L-3,-0.2 C-3,-1.8 -1.4,-2.4 0,-2.4 C1.4,-2.4 3,-1.8 3,-0.2 L3,2 Z" fill="#f7a3ef"/><path d="M-1.4,-2 Q0.6,-2.8 2.4,-1" stroke="#e21fd8" stroke-width="0.9" fill="none"/></g></g><g transform="translate(145.90,196.50) scale(1.15) translate(-145.90,-196.50)"><g transform="translate(145.9,196.5) scale(1.00)"><path d="M-3.6,2.4 L-3.6,0.6 C-3.6,-1.6 -2,-2.8 -1,-2.4 C-0.6,-3.6 0.6,-3.6 1,-2.4 C2,-2.8 3.6,-1.6 3.6,0.6 L3.6,2.4 Z" fill="#ff0d0d"/></g></g><g transform="translate(138.30,214.30) scale(1.15) translate(-138.30,-214.30)"><g transform="translate(138.3,214.3) scale(1.00)"><path d="M-3.6,2.4 L-3.6,0.6 C-3.6,-1.6 -2,-2.8 -1,-2.4 C-0.6,-3.6 0.6,-3.6 1,-2.4 C2,-2.8 3.6,-1.6 3.6,0.6 L3.6,2.4 Z" fill="#ff0d0d"/></g></g><g transform="translate(105.50,231.30) scale(1.15) translate(-105.50,-231.30)"><g transform="translate(105.5,231.3) scale(1.00)"><path d="M-3.6,2.4 L-3.6,0.6 C-3.6,-1.6 -2,-2.8 -1,-2.4 C-0.6,-3.6 0.6,-3.6 1,-2.4 C2,-2.8 3.6,-1.6 3.6,0.6 L3.6,2.4 Z" fill="#ff0d0d"/></g></g><g transform="translate(203.70,220.30) scale(1.15) translate(-203.70,-220.30)"><g transform="translate(203.7,220.3) scale(1.00)"><path d="M-3.6,2.4 L-3.6,0.6 C-3.6,-1.6 -2,-2.8 -1,-2.4 C-0.6,-3.6 0.6,-3.6 1,-2.4 C2,-2.8 3.6,-1.6 3.6,0.6 L3.6,2.4 Z" fill="#ff0d0d"/></g></g><g transform="translate(223.10,218.80) scale(1.15) translate(-223.10,-218.80)"><g transform="translate(223.1,218.8) scale(1.00)"><path d="M-3.6,2.4 L-3.6,0.6 C-3.6,-1.6 -2,-2.8 -1,-2.4 C-0.6,-3.6 0.6,-3.6 1,-2.4 C2,-2.8 3.6,-1.6 3.6,0.6 L3.6,2.4 Z" fill="#ff0d0d"/></g></g><g transform="translate(336.90,241.60) scale(1.15) translate(-336.90,-241.60)"><g transform="translate(336.9,241.6) scale(1.00)"><path d="M-3.6,2.4 L-3.6,0.6 C-3.6,-1.6 -2,-2.8 -1,-2.4 C-0.6,-3.6 0.6,-3.6 1,-2.4 C2,-2.8 3.6,-1.6 3.6,0.6 L3.6,2.4 Z" fill="#ff0d0d"/></g></g><g transform="translate(109.00,213.70) scale(1.15) translate(-109.00,-213.70)"><g transform="translate(109.0,213.7)"><path d="M-3,2 L-3,-0.2 C-3,-1.8 -1.4,-2.4 0,-2.4 C1.4,-2.4 3,-1.8 3,-0.2 L3,2 Z" fill="#fff" stroke="#ef9a9a" stroke-width="0.7"/><path d="M-2,0 H2" stroke="#ef9a9a" stroke-width="0.5"/></g></g><g transform="translate(146.50,218.10) scale(1.15) translate(-146.50,-218.10)"><g transform="translate(146.5,218.1)"><path d="M-3,2 L-3,-0.2 C-3,-1.8 -1.4,-2.4 0,-2.4 C1.4,-2.4 3,-1.8 3,-0.2 L3,2 Z" fill="#fff" stroke="#ef9a9a" stroke-width="0.7"/><path d="M-2,0 H2" stroke="#ef9a9a" stroke-width="0.5"/></g></g><g transform="translate(203.40,226.40) scale(1.15) translate(-203.40,-226.40)"><g transform="translate(203.4,226.4)"><path d="M-3,2 L-3,-0.2 C-3,-1.8 -1.4,-2.4 0,-2.4 C1.4,-2.4 3,-1.8 3,-0.2 L3,2 Z" fill="#fff" stroke="#ef9a9a" stroke-width="0.7"/><path d="M-2,0 H2" stroke="#ef9a9a" stroke-width="0.5"/></g></g><g transform="translate(377.40,267.40) scale(1.15) translate(-377.40,-267.40)"><g transform="translate(377.4,267.4)"><path d="M-3,2 L-3,-0.2 C-3,-1.8 -1.4,-2.4 0,-2.4 C1.4,-2.4 3,-1.8 3,-0.2 L3,2 Z" fill="#fff" stroke="#ef9a9a" stroke-width="0.7"/><path d="M-2,0 H2" stroke="#ef9a9a" stroke-width="0.5"/></g></g><g transform="translate(136.40,237.90) scale(1.15) translate(-136.40,-237.90)"><g transform="translate(136.4,237.9)"><path d="M-3.5,2.4 L-3.5,-1.2 L-2,-2.4 L-0.6,-1.2 L0.6,-2.4 L2,-1.2 L3.5,-2.4 L3.5,2.4 Z" fill="#a41a1a"/><path d="M-2.6,0 h1.4 M-0.6,0 h1.4 M1.4,0 h1.4" stroke="#f4c8c8" stroke-width="0.8"/></g></g><g transform="translate(316.60,236.50) scale(1.15) translate(-316.60,-236.50)"><g transform="translate(316.6,236.5)"><path d="M-3.5,2.4 L-3.5,-1.2 L-2,-2.4 L-0.6,-1.2 L0.6,-2.4 L2,-1.2 L3.5,-2.4 L3.5,2.4 Z" fill="#a41a1a"/><path d="M-2.6,0 h1.4 M-0.6,0 h1.4 M1.4,0 h1.4" stroke="#f4c8c8" stroke-width="0.8"/></g></g><g transform="translate(378.60,260.70) scale(1.15) translate(-378.60,-260.70)"><g transform="translate(378.6,260.7)"><path d="M-3.5,2.4 L-3.5,-1.2 L-2,-2.4 L-0.6,-1.2 L0.6,-2.4 L2,-1.2 L3.5,-2.4 L3.5,2.4 Z" fill="#a41a1a"/><path d="M-2.6,0 h1.4 M-0.6,0 h1.4 M1.4,0 h1.4" stroke="#f4c8c8" stroke-width="0.8"/></g></g><g transform="translate(376.40,275.30) scale(1.15) translate(-376.40,-275.30)"><g transform="translate(376.4,275.3)"><path d="M-3.5,2.4 L-3.5,-1.2 L-2,-2.4 L-0.6,-1.2 L0.6,-2.4 L2,-1.2 L3.5,-2.4 L3.5,2.4 Z" fill="#a41a1a"/><path d="M-2.6,0 h1.4 M-0.6,0 h1.4 M1.4,0 h1.4" stroke="#f4c8c8" stroke-width="0.8"/></g></g><g transform="translate(123.70,205.40) scale(1.15) translate(-123.70,-205.40)"><g transform="translate(123.7,205.4)"><path d="M-3.2,2.2 L-3.2,-0.4 L-1.6,-0.4 L-1.6,-1.6 L-0.5,-1.6 L-0.5,-3 L0.6,-3 L0.6,-1.6 L1.6,-1.6 L1.6,-0.2 L3.2,-0.2 L3.2,2.2 Z" fill="#2b9797"/></g></g><g transform="translate(155.60,198.30) scale(1.15) translate(-155.60,-198.30)"><g transform="translate(155.6,198.3)"><path d="M-3.2,2.2 L-3.2,-0.4 L-1.6,-0.4 L-1.6,-1.6 L-0.5,-1.6 L-0.5,-3 L0.6,-3 L0.6,-1.6 L1.6,-1.6 L1.6,-0.2 L3.2,-0.2 L3.2,2.2 Z" fill="#2b9797"/></g></g><g transform="translate(350.20,264.90) scale(1.15) translate(-350.20,-264.90)"><g transform="translate(350.2,264.9)"><path d="M-3.2,2.2 L-3.2,-0.4 L-1.6,-0.4 L-1.6,-1.6 L-0.5,-1.6 L-0.5,-3 L0.6,-3 L0.6,-1.6 L1.6,-1.6 L1.6,-0.2 L3.2,-0.2 L3.2,2.2 Z" fill="#2b9797"/></g></g><g transform="translate(358.20,281.00) scale(1.15) translate(-358.20,-281.00)"><g transform="translate(358.2,281.0)"><path d="M-3.2,2.2 L-3.2,-0.4 L-1.6,-0.4 L-1.6,-1.6 L-0.5,-1.6 L-0.5,-3 L0.6,-3 L0.6,-1.6 L1.6,-1.6 L1.6,-0.2 L3.2,-0.2 L3.2,2.2 Z" fill="#2b9797"/></g></g><g transform="translate(396.60,285.60) scale(1.15) translate(-396.60,-285.60)"><g transform="translate(396.6,285.6)"><path d="M-3.2,2.2 L-3.2,-0.4 L-1.6,-0.4 L-1.6,-1.6 L-0.5,-1.6 L-0.5,-3 L0.6,-3 L0.6,-1.6 L1.6,-1.6 L1.6,-0.2 L3.2,-0.2 L3.2,2.2 Z" fill="#2b9797"/></g></g><g transform="translate(322.60,273.60) scale(1.15) translate(-322.60,-273.60)"><g transform="translate(322.6,273.6)"><path d="M-3.2,2.2 L-3.2,-0.4 L-1.6,-0.4 L-1.6,-1.6 L-0.5,-1.6 L-0.5,-3 L0.6,-3 L0.6,-1.6 L1.6,-1.6 L1.6,-0.2 L3.2,-0.2 L3.2,2.2 Z" fill="#2b9797"/></g></g><g transform="translate(144.60,204.80) scale(1.30) translate(-144.60,-204.80)"><g transform="translate(144.6,204.8)"><path d="M-3,1.8 L-3,0 L0.6,0 L0.6,-2.6 L2.8,-2.6 L2.8,1.8 Z" fill="#1a1a1a"/></g></g><g transform="translate(317.90,248.60) scale(1.30) translate(-317.90,-248.60)"><g transform="translate(317.9,248.6)"><path d="M-3,1.8 L-3,0 L0.6,0 L0.6,-2.6 L2.8,-2.6 L2.8,1.8 Z" fill="#1a1a1a"/></g></g><g transform="translate(329.30,251.10) scale(1.30) translate(-329.30,-251.10)"><g transform="translate(329.3,251.1)"><path d="M-3,1.8 L-3,0 L0.6,0 L0.6,-2.6 L2.8,-2.6 L2.8,1.8 Z" fill="#1a1a1a"/></g></g><g transform="translate(346.50,246.00) scale(1.30) translate(-346.50,-246.00)"><g transform="translate(346.5,246.0)"><path d="M-3,1.8 L-3,0 L0.6,0 L0.6,-2.6 L2.8,-2.6 L2.8,1.8 Z" fill="#1a1a1a"/></g></g><g transform="translate(317.90,258.10) scale(1.30) translate(-317.90,-258.10)"><g transform="translate(317.9,258.1)"><path d="M-3,1.8 L-3,0 L0.6,0 L0.6,-2.6 L2.8,-2.6 L2.8,1.8 Z" fill="#1a1a1a"/></g></g><g transform="translate(333.80,262.00) scale(1.30) translate(-333.80,-262.00)"><g transform="translate(333.8,262.0)"><path d="M-3,1.8 L-3,0 L0.6,0 L0.6,-2.6 L2.8,-2.6 L2.8,1.8 Z" fill="#1a1a1a"/></g></g><g transform="translate(312.2,242.9)" stroke="#7cc47c" stroke-width="0.8" fill="none"><path d="M-1.8,-1.6 Q0,-2.6 1.8,-1.6 M0,-2 L0,2.4"/></g><g transform="translate(324.9,244.8)" stroke="#7cc47c" stroke-width="0.8" fill="none"><path d="M-1.8,-1.6 Q0,-2.6 1.8,-1.6 M0,-2 L0,2.4"/></g><g transform="translate(305.2,254.3)" stroke="#7cc47c" stroke-width="0.8" fill="none"><path d="M-1.8,-1.6 Q0,-2.6 1.8,-1.6 M0,-2 L0,2.4"/></g><g transform="translate(361.6,254.9)" stroke="#7cc47c" stroke-width="0.8" fill="none"><path d="M-1.8,-1.6 Q0,-2.6 1.8,-1.6 M0,-2 L0,2.4"/></g><g transform="translate(393.2,251.6)" stroke="#7cc47c" stroke-width="0.8" fill="none"><path d="M-1.8,-1.6 Q0,-2.6 1.8,-1.6 M0,-2 L0,2.4"/></g><g transform="translate(410.0,266.0)" stroke="#7cc47c" stroke-width="0.8" fill="none"><path d="M-1.8,-1.6 Q0,-2.6 1.8,-1.6 M0,-2 L0,2.4"/></g><g transform="translate(160.0,238.0)" stroke="#7cc47c" stroke-width="0.8" fill="none"><path d="M-1.8,-1.6 Q0,-2.6 1.8,-1.6 M0,-2 L0,2.4"/></g><g transform="translate(176.0,244.0)" stroke="#7cc47c" stroke-width="0.8" fill="none"><path d="M-1.8,-1.6 Q0,-2.6 1.8,-1.6 M0,-2 L0,2.4"/></g><g transform="translate(251.0,263.0)" stroke="#7cc47c" stroke-width="0.8" fill="none"><path d="M-1.8,-1.6 Q0,-2.6 1.8,-1.6 M0,-2 L0,2.4"/></g><g transform="translate(266.6,264.5)" stroke="#7cc47c" stroke-width="0.8" fill="none"><path d="M-1.8,-1.6 Q0,-2.6 1.8,-1.6 M0,-2 L0,2.4"/></g><g transform="translate(281.3,263.6)" stroke="#7cc47c" stroke-width="0.8" fill="none"><path d="M-1.8,-1.6 Q0,-2.6 1.8,-1.6 M0,-2 L0,2.4"/></g><g transform="translate(371.0,283.0)" stroke="#7cc47c" stroke-width="0.8" fill="none"><path d="M-1.8,-1.6 Q0,-2.6 1.8,-1.6 M0,-2 L0,2.4"/></g><g transform="translate(191.5,252.2)" stroke="#7cc47c" stroke-width="0.8" fill="none"><path d="M-1.8,-1.6 Q0,-2.6 1.8,-1.6 M0,-2 L0,2.4"/></g><g transform="translate(208.4,256.0)" stroke="#7cc47c" stroke-width="0.8" fill="none"><path d="M-1.8,-1.6 Q0,-2.6 1.8,-1.6 M0,-2 L0,2.4"/></g><path fill="none" stroke="#3848e6" stroke-width="1.05" d="M43.60,227.10 L43.82,227.90 L44.08,228.60 L44.43,229.08 L44.88,229.31 L45.43,229.26 L46.08,229.00 L46.78,228.58 L47.49,228.13 L48.18,227.77 L48.79,227.58 L49.30,227.64 L49.71,227.97 L50.02,228.55 L50.26,229.30 L50.47,230.12 L50.70,230.89 L50.99,231.51 L51.38,231.90 L51.87,232.01 L52.47,231.87 L53.14,231.53 L53.85,231.09 L54.56,230.66 L55.22,230.35 L55.79,230.26 L56.26,230.43 L56.63,230.87 L56.91,231.53 L57.13,232.32 L57.34,233.13 L57.60,233.85 L57.92,234.39 L58.35,234.67 L58.88,234.68 L59.51,234.45 L60.21,234.05 L60.92,233.60 L61.62,233.21 L62.25,232.98 L62.78,232.99 L63.21,233.27 L63.53,233.80 L63.78,234.52 L64.00,235.34 L64.22,236.13 L64.50,236.79 L64.87,237.22 L65.34,237.39 L65.91,237.30 L66.57,236.99 L67.28,236.56 L67.99,236.12 L68.66,235.78 L69.26,235.64 L69.75,235.76 L70.13,236.14 L70.43,236.76 L70.66,237.54 L70.87,238.35 L71.11,239.10 L71.42,239.68 L71.83,240.01 L72.34,240.08 L72.95,239.89 L73.64,239.52 L74.35,239.07 L75.05,238.66 L75.70,238.39 L76.25,238.35 L76.70,238.57 L77.05,239.06 L77.31,239.75 L77.53,240.55 L77.75,241.36 L78.01,242.05 L78.36,242.54 L78.81,242.76 L79.36,242.72 L80.01,242.45 L80.71,242.04 L81.42,241.59 L82.11,241.22 L82.72,241.03 L83.23,241.10 L83.64,241.43 L83.95,242.01 L84.19,242.76 L84.40,243.57 L84.63,244.35 L84.92,244.97 L85.31,245.35 L85.80,245.47 L86.40,245.33 L87.07,244.99 L87.78,244.55 L88.49,244.12 L89.15,243.81 L89.72,243.72 L90.19,243.89 L90.25,244.22 L90.68,244.79 L91.09,245.50 L91.50,246.24 L91.92,246.88 L92.37,247.31 L92.85,247.48 L93.37,247.36 L93.93,246.98 L94.50,246.43 L95.09,245.82 L95.66,245.27 L96.22,244.89 L96.74,244.77 L97.22,244.93 L97.67,245.37 L98.09,246.01 L98.50,246.74 L98.91,247.45 L99.34,248.02 L99.52,248.30 L100.01,248.43 L100.57,248.30 L101.21,247.95 L101.89,247.47 L102.57,246.98 L103.21,246.60 L103.80,246.42 L104.29,246.50 L104.71,246.86 L105.04,247.45 L105.32,248.21 L105.59,249.01 L105.89,249.74 L106.23,250.30 L106.66,250.60 L107.18,250.63 L107.78,250.40 L108.43,249.98 L109.12,249.49 L109.79,249.03 L110.41,248.71 L110.96,248.63 L111.43,248.82 L111.80,249.29 L112.11,249.96 L112.39,250.75 L112.66,251.53 L112.97,252.20 L113.35,252.67 L113.81,252.86 L114.36,252.78 L114.99,252.46 L115.66,252.00 L116.34,251.51 L117.00,251.09 L117.60,250.86 L118.11,250.89 L118.54,251.19 L118.89,251.75 L119.18,252.48 L119.45,253.28 L119.74,254.04 L120.07,254.63 L120.48,254.99 L120.98,255.07 L121.56,254.89 L122.21,254.51 L122.89,254.02 L123.57,253.54 L124.20,253.19 L124.77,253.06 L125.25,253.19 L125.65,253.60 L125.97,254.24 L126.25,255.01 L126.52,255.81 L126.82,256.52 L127.18,257.02 L127.63,257.27 L128.16,257.25 L128.77,256.97 L129.44,256.53 L130.12,256.03 L130.78,255.59 L131.40,255.32 L131.95,255.30 L132.40,255.56 L132.75,256.07 L133.04,256.78 L133.30,257.58 L133.56,258.36 L133.87,259.00 L134.26,259.42 L134.74,259.57 L135.31,259.44 L135.95,259.10 L136.63,258.64 L137.32,258.16 L137.98,257.79 L138.56,257.62 L139.06,257.71 L139.46,258.07 L139.79,258.67 L140.06,259.43 L140.32,260.24 L140.59,260.98 L140.93,261.54 L141.36,261.85 L141.87,261.88 L142.47,261.66 L143.14,261.26 L143.83,260.78 L144.51,260.33 L145.14,260.02 L145.69,259.95 L146.15,260.15 L146.52,260.62 L146.82,261.30 L147.08,262.09 L147.34,262.88 L147.64,263.56 L148.01,264.03 L148.47,264.23 L149.02,264.16 L149.65,263.85 L150.33,263.40 L151.02,262.92 L151.68,262.52 L152.29,262.30 L152.80,262.33 L153.22,262.65 L153.56,263.21 L153.84,263.94 L154.10,264.75 L154.37,265.51 L154.69,266.11 L155.10,266.48 L155.59,266.57 L156.18,266.39 L156.83,266.02 L157.52,265.54 L158.21,265.08 L158.85,264.74 L159.42,264.61 L159.90,264.76 L160.28,265.18 L160.60,265.82 L160.86,266.60 L161.12,267.40 L161.41,268.11 L161.76,268.62 L162.20,268.88 L162.74,268.86 L163.35,268.60 L164.02,268.17 L164.72,267.68 L165.39,267.25 L166.00,266.99 L166.54,266.97 L166.98,267.23 L167.33,267.74 L167.62,268.45 L167.88,269.26 L168.14,270.03 L168.46,270.67 L168.84,271.09 L169.32,271.24 L169.89,271.12 L170.53,270.78 L171.22,270.31 L171.91,269.83 L172.56,269.46 L173.15,269.29 L173.64,269.38 L174.05,269.74 L174.37,270.34 L174.64,271.10 L174.90,271.91 L175.18,272.65 L175.52,273.21 L175.94,273.52 L176.46,273.55 L177.06,273.33 L177.72,272.93 L178.41,272.45 L179.09,272.00 L179.72,271.69 L180.27,271.62 L180.45,271.71 L180.90,272.09 L181.33,272.70 L181.74,273.42 L182.15,274.15 L182.58,274.75 L183.03,275.14 L183.52,275.25 L184.05,275.07 L184.61,274.65 L185.19,274.07 L185.77,273.46 L186.34,272.93 L186.89,272.60 L187.40,272.53 L187.87,272.76 L188.32,273.24 L188.74,273.91 L189.14,274.65 L189.56,275.34 L190.00,275.86 L190.47,276.14 L190.97,276.13 L191.51,275.85 L192.08,275.36 L192.66,274.75 L193.24,274.16 L193.80,273.70 L194.34,273.47 L194.83,273.52 L195.30,273.85 L195.73,274.42 L196.14,275.13 L196.55,275.86 L196.97,276.50 L197.42,276.94 L197.90,277.10 L198.42,276.98 L198.98,276.60 L199.55,276.05 L200.13,275.43 L200.71,274.88 L201.26,274.50 L201.78,274.38 L202.26,274.54 L202.71,274.98 L203.13,275.62 L203.54,276.35 L203.96,277.06 L204.39,277.63 L204.85,277.96 L205.35,278.01 L205.88,277.78 L206.45,277.32 L207.03,276.73 L207.61,276.12 L208.17,275.63 L208.71,275.35 L209.22,275.34 L209.69,275.61 L210.12,276.14 L210.54,276.83 L210.95,277.57 L211.37,278.24 L211.81,278.72 L212.29,278.95 L212.80,278.88 L213.35,278.55 L213.92,278.02 L214.50,277.41 L215.08,276.83 L215.63,276.41 L216.16,276.23 L216.65,276.34 L217.11,276.73 L217.53,277.33 L217.94,278.06 L218.36,278.78 L218.78,279.39 L219.24,279.77 L219.73,279.88 L220.25,279.70 L220.81,279.28 L221.39,278.71 L221.97,278.09 L222.54,277.57 L223.09,277.24 L223.60,277.17 L224.08,277.39 L224.52,277.87 L224.94,278.54 L225.35,279.28 L225.76,279.97 L226.20,280.50 L226.67,280.78 L227.18,280.77 L227.72,280.48 L228.28,279.99 L228.86,279.39 L229.44,278.79 L230.01,278.33 L230.70,278.17 L231.19,278.27 L231.61,278.65 L231.98,279.26 L232.31,280.01 L232.64,280.79 L232.99,281.47 L233.39,281.95 L233.85,282.17 L234.38,282.10 L234.97,281.78 L235.61,281.30 L236.25,280.75 L236.88,280.26 L237.47,279.95 L238.00,279.88 L238.46,280.09 L238.86,280.58 L239.21,281.26 L239.54,282.03 L239.94,282.79 L240.35,283.37 L240.80,283.72 L241.30,283.78 L241.84,283.56 L242.42,283.12 L243.01,282.55 L243.61,281.96 L244.20,281.48 L244.74,281.22 L245.25,281.22 L245.71,281.52 L246.13,282.05 L246.52,282.76 L246.91,283.51 L247.31,284.19 L247.74,284.69 L248.21,284.92 L248.72,284.87 L249.28,284.55 L249.86,284.05 L250.46,283.45 L251.06,282.90 L251.63,282.49 L252.16,282.33 L252.65,282.45 L253.09,282.85 L253.50,283.47 L253.89,284.20 L254.28,284.94 L254.69,285.56 L255.13,285.96 L255.62,286.08 L256.15,285.92 L256.72,285.51 L257.31,284.96 L257.91,284.36 L258.50,283.85 L259.06,283.54 L259.57,283.49 L260.04,283.72 L260.47,284.22 L260.87,284.90 L261.25,285.65 L261.65,286.35 L262.07,286.89 L262.53,287.19 L263.03,287.19 L263.58,286.93 L264.16,286.45 L264.76,285.86 L265.36,285.29 L265.94,284.84 L266.48,284.63 L266.97,284.69 L267.43,285.04 L267.84,285.62 L268.23,286.34 L268.62,287.09 L269.02,287.74 L269.46,288.19 L269.93,288.37 L270.46,288.26 L271.02,287.90 L271.61,287.36 L272.21,286.77 L272.80,286.23 L273.37,285.87 L273.89,285.76 L274.37,285.94 L274.80,286.39 L275.21,287.04 L275.59,287.79 L275.99,288.51 L276.40,289.09 L276.85,289.44 L277.35,289.50 L277.89,289.29 L278.46,288.84 L279.06,288.27 L279.66,287.68 L280.24,287.21 L280.79,286.94 L281.30,286.95 L281.76,287.24 L282.18,287.78 L282.57,288.48 L282.96,289.23 L283.36,289.91 L283.79,290.41 L284.25,290.65 L284.77,290.59 L285.33,290.28 L285.91,289.77 L286.51,289.18 L287.11,288.62 L287.68,288.21 L288.21,288.05 L288.70,288.17 L289.14,288.57 L289.55,289.19 L289.94,289.93 L290.33,290.67 L290.73,291.28 L291.18,291.68 L291.66,291.80 L292.20,291.64 L292.77,291.24 L293.36,290.68 L293.96,290.09 L294.55,289.58 L295.11,289.26 L295.62,289.21 L296.09,289.45 L296.52,289.94 L296.91,290.62 L297.30,291.37 L297.70,292.08 L298.12,292.62 L298.58,292.91 L299.08,292.92 L299.63,292.65 L300.21,292.17 L300.81,291.58 L301.41,291.01 L301.99,290.57 L302.53,290.35 L303.02,290.42 L303.47,290.76 L303.89,291.34 L304.28,292.07 L304.67,292.81 L305.07,293.46 L305.50,293.91 L305.98,294.09 L306.51,293.98 L307.07,293.62 L307.66,293.09 L308.26,292.49 L308.85,291.96 L309.42,291.59 L309.94,291.49 L310.42,291.67 L310.85,292.11 L311.26,292.77 L311.64,293.51 L312.03,294.24 L312.45,294.82 L312.90,295.16 L313.40,295.23 L313.94,295.01 L314.51,294.57 L315.11,293.99 L315.71,293.41 L316.29,292.93 L316.84,292.66 L317.35,292.67 L317.81,292.96 L318.23,293.50 L318.62,294.20 L319.01,294.96 L319.41,295.64 L319.76,296.12 L320.21,296.38 L320.73,296.36 L321.30,296.07 L321.92,295.60 L322.55,295.03 L323.17,294.51 L323.76,294.14 L324.30,294.00 L324.78,294.15 L325.20,294.57 L325.58,295.21 L325.93,295.97 L326.28,296.72 L326.65,297.36 L327.07,297.78 L327.55,297.93 L328.09,297.80 L328.68,297.43 L329.31,296.90 L329.94,296.34 L330.55,295.86 L331.12,295.58 L331.64,295.55 L332.09,295.81 L332.50,296.33 L332.86,297.03 L333.20,297.80 L333.56,298.53 L333.95,299.09 L334.39,299.41 L334.90,299.44 L335.46,299.20 L336.07,298.75 L336.70,298.20 L337.32,297.66 L337.92,297.25 L338.48,297.06 L338.97,297.15 L339.40,297.52 L339.78,298.12 L340.13,298.87 L340.48,299.63 L340.85,300.30 L341.26,300.77 L341.73,300.98 L342.26,300.90 L342.84,300.57 L343.46,300.07 L344.09,299.50 L344.71,299.00 L345.29,298.67 L345.82,298.59 L346.29,298.79 L346.70,299.26 L347.06,299.94 L347.41,300.70 L347.76,301.45 L348.15,302.05 L348.58,302.42 L349.07,302.51 L349.62,302.32 L350.22,301.91 L350.85,301.37 L351.48,300.81 L352.08,300.37 L352.65,300.13 L353.15,300.16 L353.59,300.48 L353.99,301.04 L354.34,301.76 L354.69,302.54 L355.05,303.24 L355.45,303.75 L355.91,304.01 L356.42,303.99 L357.00,303.70 L357.61,303.23 L358.24,302.67 L358.86,302.14 L359.45,301.77 L359.99,301.64 L360.47,301.78 L360.90,302.20 L361.27,302.84 L361.62,303.60 L361.97,304.36 L362.34,305.00 L362.76,305.42 L363.24,305.57 L363.78,305.43 L364.38,305.06 L365.00,304.53 L365.63,303.97 L366.24,303.50 L366.82,303.21 L367.33,303.19 L367.79,303.45 L368.19,303.97 L368.55,304.66 L368.90,305.44 L369.25,306.16 L369.64,306.72 L370.09,307.04 L370.59,307.07 L371.15,306.83 L371.76,306.39 L372.39,305.83 L373.02,305.29 L373.62,304.88 L374.17,304.69 L374.66,304.78 L375.09,305.15 L375.48,305.76 L375.83,306.50 L376.18,307.27 L376.54,307.94 L376.95,308.41 L377.42,308.61 L377.95,308.53 L378.53,308.20 L379.15,307.70 L379.78,307.13 L380.40,306.63 L380.98,306.30 L381.51,306.22 L381.98,306.43 L382.39,306.90 L382.76,307.57 L383.10,308.34 L383.46,309.08 L383.84,309.68 L384.27,310.05 L384.80,310.14 L385.35,309.95 L385.94,309.52 L386.55,308.97 L387.17,308.40 L387.76,307.94 L388.32,307.69 L388.83,307.71 L389.28,308.02 L389.68,308.57 L390.05,309.28 L390.42,310.05 L390.79,310.74 L391.21,311.25 L391.67,311.50 L392.18,311.46 L392.75,311.16 L393.35,310.67 L393.97,310.10 L394.58,309.56 L395.16,309.17 L395.70,309.03 L396.18,309.16 L396.61,309.58 L397.00,310.21 L397.37,310.95 L397.74,311.70 L398.12,312.33 L398.55,312.75 L399.04,312.88 L399.57,312.74 L400.16,312.35 L400.77,311.81 L401.39,311.24 L401.99,310.75 L402.56,310.45 L403.07,310.41 L403.53,310.66 L403.94,311.17 L404.32,311.86 L404.69,312.63 L405.06,313.34 L405.46,313.89 L405.91,314.20 L406.42,314.22 L406.97,313.97 L407.57,313.51 L408.19,312.94 L408.80,312.39 L409.39,311.96 L409.94,311.76 L410.43,311.84 L410.87,312.20 L411.27,312.80 L411.64,313.53 L412.00,314.29 L412.39,314.95 L412.81,315.41 L413.28,315.61 L413.81,315.52 L414.38,315.17 L414.99,314.66 L415.61,314.08 L416.21,313.56 L416.79,313.22 L417.31,313.13 L417.79,313.32 L418.21,313.78 L418.59,314.44 L418.96,315.20 L419.32,315.94 L419.72,316.53 L420.16,316.89 L420.65,316.97 L421.20,316.77 L421.79,316.35 L422.41,315.79 L423.02,315.22 L423.62,314.76 L424.18,314.51 L424.68,314.53 L425.13,314.84 L425.54,315.39 L425.91,316.11 L426.27,316.87 L426.65,317.56 L427.06,318.07 L427.52,318.32 L428.04,318.29 L428.60,317.99 L429.21,317.50 L429.83,316.92 L430.44,316.39"/><line x1="60.9" y1="215.4" x2="54.8" y2="229.9" stroke="#e43a3a" stroke-width="1.0"/><polygon points="61.30,214.50 58.54,216.15 62.04,217.63" fill="#e43a3a"/><polygon points="54.40,230.80 53.66,227.67 57.16,229.15" fill="#e43a3a"/><line x1="161.6" y1="251.3" x2="161.6" y2="261.6" stroke="#e43a3a" stroke-width="1.0"/><polygon points="161.60,250.30 159.70,252.90 163.50,252.90" fill="#e43a3a"/><polygon points="161.60,262.60 159.70,260.00 163.50,260.00" fill="#e43a3a"/><line x1="238.3" y1="266.3" x2="238.3" y2="278.4" stroke="#e43a3a" stroke-width="1.0"/><polygon points="238.30,265.30 236.40,267.90 240.20,267.90" fill="#e43a3a"/><polygon points="238.30,279.40 236.40,276.80 240.20,276.80" fill="#e43a3a"/><line x1="287.8" y1="273.2" x2="287.8" y2="284.8" stroke="#e43a3a" stroke-width="1.0"/><polygon points="287.80,272.20 285.90,274.80 289.70,274.80" fill="#e43a3a"/><polygon points="287.80,285.80 285.90,283.20 289.70,283.20" fill="#e43a3a"/><path transform="translate(194.6,205.0)" d="M-1.5,-3.8 L-1.5,-8.6 Q-1.2,-12.2 4.4,-12.6 Q2.4,-11 2.5,-7.6 L2.5,-3.8 L3.7,-3.8 L0,0 L-3.4,-3.8 Z" fill="#ff0000"/><path transform="translate(318.4,229.0)" d="M-1.5,-3.8 L-1.5,-8.6 Q-1.2,-12.2 4.4,-12.6 Q2.4,-11 2.5,-7.6 L2.5,-3.8 L3.7,-3.8 L0,0 L-3.4,-3.8 Z" fill="#ff0000"/><path d="M293.6,315.8 L297,319.2 L295.4,319.2 L295.4,323.5 Q295.8,326.2 298.6,327.5 Q292.2,327.6 291.8,323.5 L291.8,319.2 L290.2,319.2 Z" fill="#ff0000"/><path d="M39.8,253.6 L36.1,256.4 L36.1,254.8 L30.6,254.8 Q26.8,254.4 26.5,249.3 Q28.4,251.9 30.8,251.9 L36.1,251.9 L36.1,250.8 Z" fill="#ff0000"/><circle cx="120.9" cy="165" r="3.3" fill="#fff" stroke="#666" stroke-width="0.8"/><path d="M117.3,171.4 L143.5,171.4 C144,169.5 142.8,167.4 140.6,167.2 C140,164.6 137.6,163.4 135.6,164.2 C134.4,162.4 131.2,162 129.6,163.6 C127.6,162.6 125,163.8 124.6,166.2 C122.4,165.8 120.6,167 120.8,169.4 C118.8,169.6 117.6,170.4 117.3,171.4 Z" fill="#444"/><rect x="117" y="170.4" width="27" height="1.2" fill="#333"/><g fill="#333"><ellipse cx="131.8" cy="175" rx="0.7" ry="1.1" transform="rotate(25 131.8 175)"/><ellipse cx="139" cy="175" rx="0.7" ry="1.1" transform="rotate(25 139 175)"/><ellipse cx="128.5" cy="178.7" rx="0.7" ry="1.1" transform="rotate(25 128.5 178.7)"/><ellipse cx="135.2" cy="178.7" rx="0.7" ry="1.1" transform="rotate(25 135.2 178.7)"/></g>
<!-- texts -->
<g class="t" font-size="5.6">
  <text x="173.7" y="181.3">In agriculture land use fertilizer run-off</text>
  <text x="173.7" y="186.9">is the major &#160;DOC factor</text>
  <text x="292.8" y="205.9">Urban land use &#160;contributes to groundwater</text>
  <text x="292.8" y="211.7">DOC through contamination</text>
  <text x="273.8" y="332.7">Water quality parameter and Groundwater DOC</text>
  <text x="275.3" y="338.6">linked and largely controlled by Fe/NO3/ DO/ Reduced /Oxidized</text>
  <text x="273.8" y="344.6">process</text>
</g>
<g class="t" font-size="5.15">
  <text transform="translate(9.4,296) rotate(-90)">Younger aquifer matrix represents</text>
  <text transform="translate(16.2,296) rotate(-90)">the higher DOC due to &#160;less residence time</text>
  <text transform="translate(22.8,296) rotate(-90)">and biogeochemical dominant</text>
</g>

<!-- legend -->
<g class="t" stroke="#000" stroke-width="0.18">
  <text x="453.3" y="201.4" font-size="10.6">Legend</text>
  <text x="459.6" y="215" font-size="7.1">Water table</text>
  <text x="460" y="225.1" font-size="7.1">Landuse</text>
  <text x="458.7" y="237" font-size="7.1">Buildup</text>
  <text x="457.1" y="249.4" font-size="7.1">Agriculture</text>
  <text x="458.2" y="260.3" font-size="6.8">River Gingee</text>
  <text x="458.2" y="270.4" font-size="6.5">1.Bahoor tank,2.Usteri tank,</text>
  <text x="466.8" y="277.1" font-size="6.6">3.Kalvelly water shed</text>
  <text x="464.3" y="287.8" font-size="7.1">Geology</text>
  <text x="463.2" y="299" font-size="7">Quaternary</text>
  <text x="464.6" y="310.4" font-size="7">Tertiary</text>
  <text x="466.6" y="319.9" font-size="7.1">Cretaceous</text>
</g>
<rect x="441.2" y="291.2" width="14.9" height="8.3" fill="url(#g1)"/>
<rect x="441.2" y="302" width="14.9" height="7.9" fill="url(#g2)"/>
<rect x="441.2" y="312.5" width="16.3" height="8.4" fill="url(#g3)"/>
<rect x="453.3" y="202.1" width="37.9" height="1.1" fill="#000"/>
<rect x="460" y="226" width="29.3" height="0.9" fill="#000"/>
<rect x="464.3" y="287.9" width="28.4" height="0.9" fill="#000"/>
<path fill="none" stroke="#4a3cc8" stroke-width="1.2" stroke-linecap="round" d="M432.4,208.4 C434.3,207.2 435.6,211.2 437.3,210.6 C438.8,210.1 439.6,208.2 440.8,208.8 C442.2,209.6 442.4,213.4 443.9,213.2 C445.4,213 446.3,210.9 447.6,211.3 C448.9,211.7 449.6,213.9 450.9,213.5 C451.9,213.2 452.5,212.6 453.1,212.3"/><path d="M439.5,237.5 V235.3 H441.4 V234.6 H442.4 V235.3 H443.4 V232.8 H446.3 V237.5 Z" fill="#1a1a1a"/><g transform="translate(443.5,246.8) scale(1.25)"><path d="M-2.3,0.6 C-2.6,-1.6 -1.4,-3.4 0,-3.6 C1.4,-3.4 2.6,-1.6 2.3,0.6 Z" fill="#11922a"/><rect x="-0.45" y="0.3" width="0.9" height="2.6" fill="#11922a"/></g><path d="M433.8,256 Q438.4,258.8 443.4,259.4 Q448.2,258.4 453.7,255.6" fill="none" stroke="#3d3dea" stroke-width="1.1"/><polygon points="440.2,265.4 454.4,264.6 455.2,268.6 450.6,274.6 438.4,274.2" fill="#10e0f8" stroke="#1a22d8" stroke-width="0.9" stroke-linejoin="round"/>
</svg>
</body></html>
